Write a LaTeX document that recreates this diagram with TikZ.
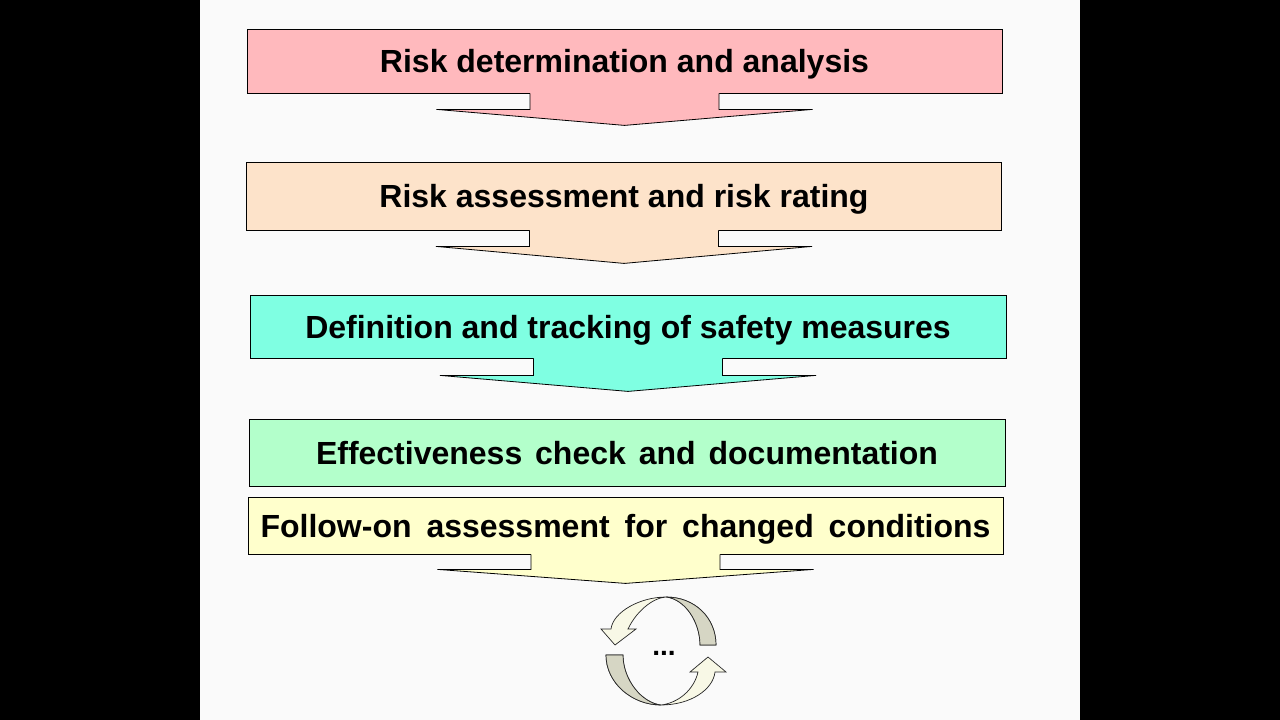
\documentclass[tikz,border=0pt]{standalone}
\usepackage{fontspec}
\setmainfont{Liberation Sans}
\usepackage{tikz}
\usetikzlibrary{positioning}

\definecolor{slide}{HTML}{FAFAFA}
\definecolor{analysisfill}{HTML}{FFB9BD}
\definecolor{ratingfill}{HTML}{FDE3CA}
\definecolor{measurefill}{HTML}{7FFFE2}
\definecolor{checkfill}{HTML}{B3FFCB}
\definecolor{followfill}{HTML}{FFFFCC}
\definecolor{cyclelight}{HTML}{F8F8E6}
\definecolor{cycledark}{HTML}{D6D6C4}

% arrow below a box: node, colour, stem length, head length
\newcommand{\flowdown}[4]{%
  \fill[#2] ([shift={(-94.5,-1)}]#1.south) -- ([shift={(-94.5,#3)}]#1.south)
    -- ([shift={(-188,#3)}]#1.south) -- ([shift={(0,#3+#4)}]#1.south)
    -- ([shift={(188,#3)}]#1.south) -- ([shift={(94.5,#3)}]#1.south)
    -- ([shift={(94.5,-1)}]#1.south) -- cycle;
  \draw[line width=0.8pt] ([shift={(-94.5,0)}]#1.south) -- ([shift={(-94.5,#3)}]#1.south)
    -- ([shift={(-188,#3)}]#1.south) -- ([shift={(0,#3+#4)}]#1.south)
    -- ([shift={(188,#3)}]#1.south) -- ([shift={(94.5,#3)}]#1.south)
    -- ([shift={(94.5,0)}]#1.south);
}

\begin{document}
\begin{tikzpicture}[x=1pt,y=-1pt,
    stage/.style={draw,line width=0.8pt,minimum width=755pt,inner sep=0pt,
      text height=23pt,text depth=0pt,font=\fontsize{32}{38}\selectfont\bfseries},
    cycle/.style={draw=black!85,line width=0.7pt}]
    \useasboundingbox (0,0) rectangle (1280,720);
    \fill[black] (0,0) rectangle (1280,720);
    \fill[slide] (200,0) rectangle (1080,720);

    \node[stage,fill=analysisfill,minimum height=64pt] (analysis) at (624.5,61) {Risk determination and analysis};
    \node[stage,fill=ratingfill,minimum height=68pt] (rating) at (624,196) {Risk assessment and risk rating};
    \node[stage,fill=measurefill,minimum height=63pt,minimum width=756pt] (measures) at (628,326.5) {Definition and tracking of safety measures};
    \node[stage,fill=checkfill,minimum height=67pt,minimum width=756pt] (check) at (627,452.5) {\makebox[622pt][s]{Effectiveness check and documentation}};
    \node[stage,fill=followfill,minimum height=57pt] (follow) at (625.5,525.5) {\makebox[730pt][s]{Follow-on assessment for changed conditions}};

    \flowdown{analysis}{analysisfill}{16}{16}
    \flowdown{rating}{ratingfill}{16}{17}
    \flowdown{measures}{measurefill}{17}{16}
    \flowdown{follow}{followfill}{15}{14}

    % cycle arrows
    \filldraw[cycle,fill=cyclelight] (716,645) .. controls (716,618) and (695,597) .. (666,597)
      .. controls (640,597) and (613,612) .. (611,629) -- (601,629) -- (615,645) -- (636,629) -- (628,629)
      .. controls (636,612) and (652,598) .. (666,597)
      .. controls (685,599) and (700,622) .. (700,645) -- cycle;
    \filldraw[cycle,fill=cycledark] (716,645) .. controls (716,618) and (695,597) .. (666,597)
      .. controls (685,599) and (700,622) .. (700,645) -- cycle;
    \filldraw[cycle,fill=cyclelight] (606,655) .. controls (606,683) and (632,705) .. (661,705)
      .. controls (690,705) and (713,690) .. (715,672) -- (726,672) -- (708,657) -- (690,672) -- (698,672)
      .. controls (694,690) and (678,703) .. (661,705)
      .. controls (642,703) and (623,680) .. (623,655) -- cycle;
    \filldraw[cycle,fill=cycledark] (606,655) .. controls (606,683) and (632,705) .. (661,705)
      .. controls (642,703) and (623,680) .. (623,655) -- cycle;
    \node[font=\fontsize{28}{30}\selectfont\bfseries,anchor=base] (more) at (664,655) {...};
\end{tikzpicture}
\end{document}
